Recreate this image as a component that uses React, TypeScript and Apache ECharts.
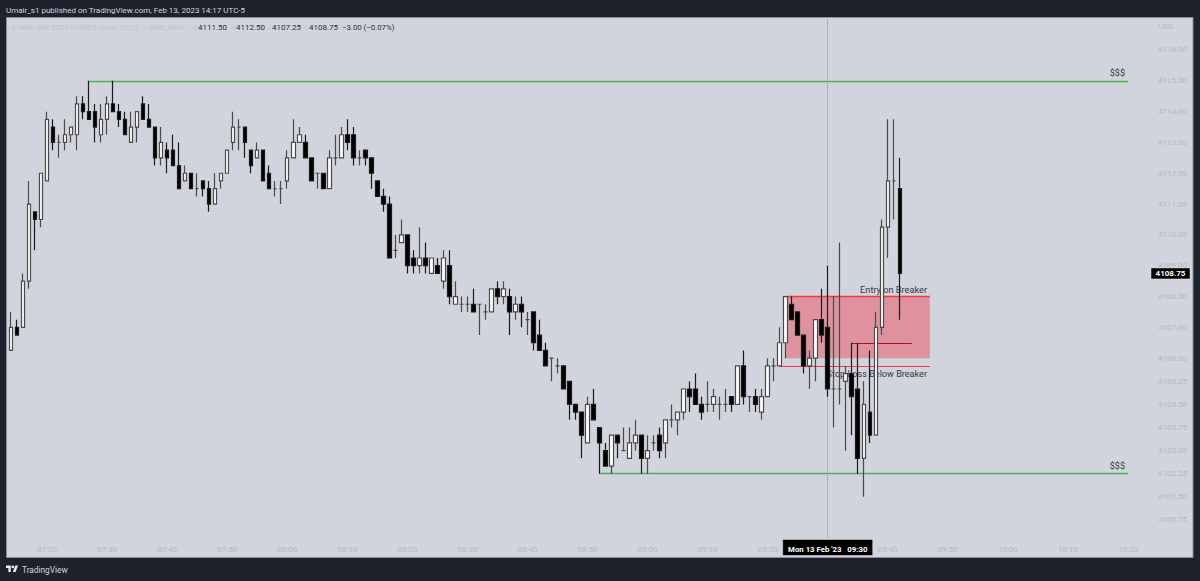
import React, { useEffect, useRef } from "react";
import * as echarts from "echarts";

const opens = [
  4106.25,4107,4107,4108.5,4110.75,4110.5,4111.75,4113.5,4113,4113,
  4113.25,4113.25,4114.25,4114,4114,4113.25,4113.75,4114.25,4114,4113.75,
  4113,4113.5,4114.25,4113.75,4113.5,4112.5,4112.75,4112.75,4112.25,4111.75,
  4112,4111.5,4111.75,4111.5,4111,4111.75,4112,4113,4113.5,4113.5,
  4112.75,4112.5,4112.75,4112,4111.5,4111.5,4111.75,4112.5,4113,4113,
  4112.5,4112,4112,4111.5,4112.5,4112.5,4113.25,4113.25,4112.5,4112.75,
  4112.5,4111.75,4111.25,4111,4109.5,4109.75,4110,4109.25,4109,4109.25,
  4108.75,4109,4108.5,4109,4107.75,4107.75,4107.75,4107.75,4107.75,4107.5,
  4107.5,4108.25,4108,4108,4107.5,4107.75,4107.25,4107.5,4106.75,4106.25,
  4106,4105.75,4105.75,4105.25,4104.5,4104.25,4103.25,4104.5,4103.75,4103,
  4102.5,4103.5,4103,4102.75,4103.25,4103.5,4102.75,4103.25,4103.5,4103.25,
  4104,4104,4104.25,4105,4105,4104.5,4104.5,4104.5,4104.5,4104.5,
  4104.75,4104.5,4105.75,4104.75,4104.75,4104.25,4104.75,4105.75,4105.75,4106.5,
  4107.75,4107.5,4106.75,4105.75,4106,4107.25,4107,4105,4105,4105.25,
  4105.5,4105,4102.75,4104.25,4103.5,4107,4110.25,4111.75,4111.5,
];
const closes = [
  4107,4106.75,4108.5,4111,4110.5,4112,4113.75,4113,4113,4113.25,
  4113.5,4114.25,4114,4113.75,4113.5,4113.75,4114.25,4114,4113.75,4113.25,
  4113.5,4114,4113.75,4113.5,4112.5,4113,4112.5,4112.25,4111.5,4112,
  4111.5,4111.5,4111.5,4111,4111.5,4112,4112.75,4113.5,4113.5,4113,
  4112.25,4112.75,4111.75,4111.5,4111.5,4111.5,4112.5,4113,4113.25,4112.5,
  4111.75,4112,4111.5,4112.5,4112.5,4113.25,4113,4112.5,4112.5,4112.5,
  4112,4111.25,4111,4109.25,4109.5,4110,4109,4109,4109.25,4109,
  4109.25,4108.75,4109.25,4108,4108,4107.75,4107.75,4107.5,4107.75,4107.5,
  4108.25,4108,4108.25,4107.5,4107.75,4107.5,4107.25,4106.5,4106.25,4105.75,
  4106,4105.75,4105,4104.5,4104.25,4103.5,4104.5,4104,4103.25,4102.5,
  4103.5,4103.25,4103,4103.25,4103.5,4102.75,4103,4103.25,4103,4104,
  4104,4104.25,4105,4104.75,4104.5,4104.25,4104.5,4104.75,4104.5,4104.5,
  4104.5,4105.75,4104.75,4104.75,4104.5,4104.75,4105.75,4105.75,4106.5,4108,
  4107.25,4106.75,4105.75,4106,4107.25,4106.75,4105,4105,4105,4105.5,
  4104.75,4102.75,4104.5,4103.5,4107,4110.25,4111.75,4111.75,4108.75,
];
const lows = [
  4106.25,4106.75,4107,4108.25,4109.5,4110.25,4111.75,4112.75,4112.5,4112.75,
  4113,4112.75,4113.75,4113.75,4113,4113,4113.25,4114,4113.5,4113.25,
  4113,4113,4113.75,4113.5,4112.25,4112.25,4112,4112.25,4111.5,4111.75,
  4111.5,4111.25,4111.25,4110.75,4111,4111.5,4112,4112.75,4112.75,4112.5,
  4112,4112.5,4111.75,4111.5,4111.25,4111,4111.5,4112.5,4113,4112.5,
  4111.75,4111.5,4111.5,4111.5,4112.25,4112.5,4112.75,4112.25,4112.25,4112.25,
  4111.5,4111.25,4110.75,4109.25,4109.25,4109.75,4108.75,4108.75,4108.75,4108.75,
  4108.75,4108.75,4108.25,4107.75,4107.75,4107.5,4107.5,4107.5,4106.75,4107.25,
  4107.5,4107.75,4107.75,4106.75,4107.25,4107,4106.75,4106.25,4106.25,4105.75,
  4105.25,4105.5,4105,4104,4104,4102.75,4103.25,4104,4102.25,4102.5,
  4102.25,4102.75,4103,4102.75,4103,4102.25,4102.25,4103,4102.75,4102.75,
  4103.75,4103.5,4104,4104.25,4104.5,4104,4104.25,4104.25,4104,4104.25,
  4104.25,4104.5,4104.5,4104.25,4104.25,4104,4104.75,4105.25,4105.75,4106,
  4107.25,4106.75,4105.5,4105,4105.25,4106.5,4104.75,4103.75,4104.5,4103,
  4103.5,4102.25,4101.5,4103.25,4103.5,4106.75,4109.25,4110.5,4107.25,
];
const highs = [
  4107.5,4107.25,4108.75,4111.75,4110.75,4112,4114,4113.75,4113.25,4113.75,
  4113.5,4114.5,4114.5,4115,4114.25,4114.25,4114.5,4115,4114.25,4114,
  4114,4114,4114.5,4114.25,4113.5,4113.5,4113,4113.25,4113,4112.25,
  4112,4112,4111.75,4111.75,4112,4112,4112.75,4114,4113.75,4113.5,
  4112.75,4113,4112.75,4112.25,4111.75,4111.75,4112.75,4113.75,4113.5,4113.25,
  4112.5,4112,4112,4112.75,4113.25,4113.5,4113.75,4113.5,4112.75,4112.75,
  4112.5,4111.75,4111.5,4111.25,4110,4110.5,4110,4109.5,4110.25,4109.75,
  4109.25,4109.25,4109.5,4109.5,4108.5,4108,4108,4108.25,4107.75,4107.75,
  4108.25,4108.5,4108.5,4108.25,4108,4108,4107.5,4107.5,4107.25,4106.5,
  4106,4106,4105.75,4105.25,4104.5,4104.25,4104.75,4105,4103.75,4103.25,
  4103.5,4103.5,4103.75,4103.75,4104,4103.5,4103.5,4103.5,4103.75,4104,
  4104.5,4104.25,4105,4105.25,4105.5,4104.75,4105.25,4105,4104.75,4105,
  4104.75,4105.75,4106.25,4104.75,4105,4105,4106,4106,4107,4108,
  4108,4107.5,4106.75,4106.25,4107.25,4108.25,4109,4108,4109.75,4105.75,
  4106.5,4106.5,4105.25,4106.25,4107.5,4110.5,4113.75,4113.75,4112.5,
];

const priceTicks = [
  4116,4115,4114,4113,4112,4111,4110,4109,4108,4107,4106,
  4105.25,4104.5,4103.75,4103,4102.25,4101.5,4100.75,
];

const pad = (n: number) => String(n).padStart(2, "0");
const firstMinute = 7 * 60 + 14;
const barCount = 190;
const categories = Array.from({ length: barCount }, (_, i) => {
  const m = firstMinute + i;
  return `${pad(Math.floor(m / 60))}:${pad(m % 60)}`;
});

const highLevel = 4115;
const lowLevel = 4102.25;
const zoneTop = 4108;
const zoneBottom = 4106;
const stopLevel = 4105.75;
const entryLevel = 4106.5;
const lastPrice = 4108.75;
const crossTime = "09:30";

const BG = "#1e222d";
const PANEL = "#d1d4dc";
const FAINT = "#b4b8c2";
const GREEN = "#4fb056";
const RED = "#f23645";
const INK = "#363a45";
const FONT = "Roboto, 'Noto Sans', sans-serif";

const gridLeft = 8;
const gridRight = 1149;
const gridTop = 18;
const gridBottom = 540;
const yMax = 4117.038;
const yMin = 4100.1;

const xOf = (t: string) => {
  const w = (gridRight - gridLeft) / barCount;
  return gridLeft + (categories.indexOf(t) + 0.5) * w;
};
const yOf = (v: number) =>
  gridTop + ((yMax - v) / (yMax - yMin)) * (gridBottom - gridTop);

const hline = (from: string, to: string, y: number, color: string, width = 1) => [
  { coord: [from, y], lineStyle: { color, width, type: "solid", opacity: 1 } },
  { coord: [to, y], lineStyle: { color, width, type: "solid", opacity: 1 } },
];

echarts.graphic.registerShape(
  "tvlogo",
  echarts.graphic.extendPath(
    "M14 22H7V11H0V4h14v18zM28 22h-8l7.5-18h8L28 22zM24 8a4 4 0 1 1-8 0 4 4 0 0 1 8 0z",
    {}
  )
);

const txt = (
  text: string,
  x: number,
  y: number,
  fill: string,
  size = 8,
  align: string = "left",
  z = 0,
  fontWeight: string = "normal"
) => ({
  type: "text",
  x,
  y,
  z,
  silent: true,
  style: {
    text,
    fill,
    font: `${fontWeight} ${size}px ${FONT}`,
    align,
    verticalAlign: "middle",
  },
});

export default function App() {
  const ref = useRef<HTMLDivElement>(null);

  useEffect(() => {
    document.body.style.margin = "0";
    document.body.style.background = BG;
    const chart = echarts.init(ref.current!, null, { renderer: "svg" });
    const tagX = xOf(crossTime);
    const tagY = yOf(lastPrice);
    chart.setOption({
      animation: false,
      backgroundColor: BG,
      grid: {
        left: gridLeft,
        right: 1200 - gridRight,
        top: gridTop,
        bottom: 581 - gridBottom,
      },
      xAxis: {
        type: "category",
        data: categories,
        boundaryGap: true,
        axisLine: { show: false },
        axisTick: { show: false },
        splitLine: { show: false },
        axisLabel: {
          color: FAINT,
          fontSize: 8,
          fontFamily: FONT,
          margin: 5,
          interval: (_: number, v: string) => v.endsWith("0") && v !== crossTime,
        },
      },
      yAxis: {
        type: "value",
        position: "right",
        min: yMin,
        max: yMax,
        scale: true,
        axisLine: { show: false },
        axisTick: { show: false },
        splitLine: { show: false },
        axisLabel: {
          customValues: priceTicks,
          color: FAINT,
          fontSize: 8,
          fontFamily: FONT,
          margin: 9,
          formatter: (v: number) => v.toFixed(2),
        },
      },
      series: [
        {
          type: "candlestick",
          barWidth: 4,
          z: 2,
          data: opens.map((o, i) => [o, closes[i], lows[i], highs[i]]),
          itemStyle: {
            color: "#ffffff",
            color0: "#000000",
            borderColor: "#4a4a4a",
            borderColor0: "#1a1a1a",
            borderColorDoji: "#4a4a4a",
            borderWidth: 1.2,
          },
          markArea: {
            silent: true,
            z: 1,
            itemStyle: { color: "rgba(242,54,69,0.42)" },
            data: [[{ coord: ["09:23", zoneTop] }, { coord: ["09:47", zoneBottom] }]],
          },
          markLine: {
            silent: true,
            z: 1,
            symbol: "none",
            label: { show: false },
            data: [
              {
                xAxis: crossTime,
                lineStyle: { color: "#8f939e", width: 1, type: "dotted" },
              },
              hline("07:27", "10:20", highLevel, GREEN, 1.3),
              hline("08:52", "10:20", lowLevel, GREEN, 1.3),
              hline("09:23", "09:47", zoneTop, RED, 1.4),
              hline("09:22", "09:47", stopLevel, RED, 1.2),
              hline("09:34", "09:44", entryLevel, "#9c1626", 1.2),
            ],
          },
        },
      ],
      graphic: [
        {
          type: "rect",
          z: -10,
          silent: true,
          shape: { x: 6.5, y: 17.5, width: 1186.5, height: 540 },
          style: { fill: PANEL, stroke: "#8a8e99", lineWidth: 1 },
        },
        txt("Umair_s1 published on TradingView.com, Feb 13, 2023 14:17 UTC-5", 6, 10, "#d1d4dc", 8),
        txt("E-MINI S&P 500 FUTURES (MAR 2023), 1, CME_MINI", 12, 27, "#bfc3cc", 7.4),
        txt("O", 192.5, 27, "#bfc3cc", 6),
        txt("4111.50", 198, 27, "#2a2e39", 8),
        txt("H", 231, 27, "#bfc3cc", 6),
        txt("4112.50", 236, 27, "#2a2e39", 8),
        txt("L", 268, 27, "#bfc3cc", 6),
        txt("4107.25", 272, 27, "#2a2e39", 8),
        txt("C", 304, 27, "#bfc3cc", 6),
        txt("4108.75", 309, 27, "#2a2e39", 8),
        txt("−3.00 (−0.07%)", 342, 27, "#2a2e39", 7.8),
        txt("USD", 1158, 26, FAINT, 8),
        txt("$$$", 1125, 73, INK, 9, "right"),
        txt("$$$", 1125, 466, INK, 9, "right"),
        txt("Entry on Breaker", 927, 289, INK, 9.2, "right"),
        txt("Stop Loss Below Breaker", 927, 374, INK, 9.1, "right"),
        {
          type: "tvlogo",
          x: 6,
          y: 564,
          scaleX: 0.34,
          scaleY: 0.36,
          silent: true,
          style: { fill: "#e8eaf0" },
        },
        txt("TradingView", 22, 569.5, "#d1d4dc", 8.3),
        {
          type: "rect",
          z: 100,
          silent: true,
          shape: { x: 1151, y: tagY - 5.5, width: 39, height: 11 },
          style: { fill: "#000000", stroke: "#e8e9ee", lineWidth: 0.5 },
        },
        txt(lastPrice.toFixed(2), 1170.5, tagY, "#ffffff", 8, "center", 101, "bold"),
        {
          type: "rect",
          z: 100,
          silent: true,
          shape: { x: tagX - 45, y: 539.5, width: 90, height: 16 },
          style: { fill: "#000000", stroke: "#e8e9ee", lineWidth: 0.5 },
        },
        txt("Mon 13 Feb '23   09:30", tagX, 549, "#ffffff", 7.8, "center", 101, "bold"),
      ],
    });
    return () => chart.dispose();
  }, []);

  return <div ref={ref} style={{ width: 1200, height: 581 }} />;
}
